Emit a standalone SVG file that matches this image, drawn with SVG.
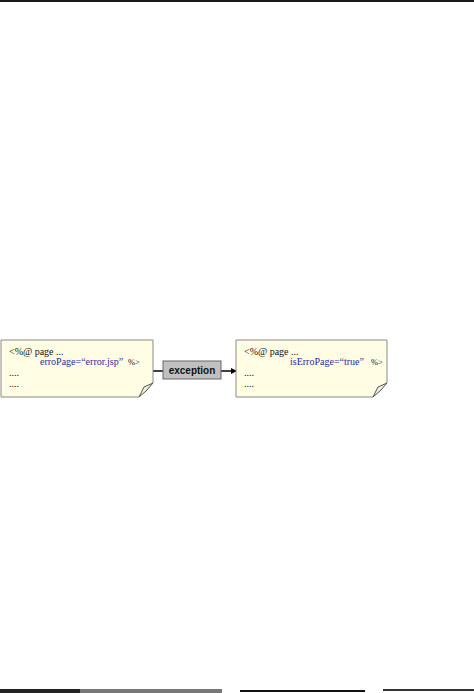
<svg xmlns="http://www.w3.org/2000/svg" width="474" height="693" viewBox="0 0 474 693">
<defs>
<style>
.note{fill:#fffde3;stroke:#8a8a8a;stroke-width:1}
.fold{fill:#f4f1d8;stroke:#555;stroke-width:1}
.t{font-family:"Liberation Serif",serif;font-size:10px;fill:#111}
.s{font-family:"Liberation Serif",serif;font-size:8.5px;fill:#111}
.b{font-family:"Liberation Serif",serif;font-size:10px;fill:#2a2aa0}
.ex{font-family:"Liberation Sans",Arial,sans-serif;font-size:10px;font-weight:bold;fill:#111}
</style>
<marker id="arr" markerWidth="6" markerHeight="6" refX="5" refY="3" orient="auto" markerUnits="userSpaceOnUse"><path d="M0,0 L6,3 L0,6 z" fill="#000"/></marker>
</defs>
<rect x="0" y="0" width="474" height="2" fill="#1a1a1a"/>
<rect x="0" y="689" width="80" height="4" fill="#222"/>
<rect x="80" y="689" width="142" height="4" fill="#777"/>
<rect x="240" y="690" width="125" height="2" fill="#111"/>
<rect x="383" y="689" width="91" height="2" fill="#333"/>
<g id="connectors">
<line x1="153" y1="371" x2="163" y2="371" stroke="#000" stroke-width="1.5"/>
<line x1="221" y1="371" x2="236" y2="371" stroke="#000" stroke-width="1.5" marker-end="url(#arr)"/>
</g>
<g id="note1">
<path class="note" d="M1,340 H153 V383 L139,397 H1 Z"/>
<path class="fold" d="M139,397 L144,387 L153,383 L146,391 Z"/>
<text class="t" x="9" y="355">&lt;%@ page ...</text>
<text class="b" x="40" y="365">erroPage=“error.jsp”</text>
<text class="s" x="128" y="365">%&gt;</text>
<text class="t" x="9" y="376">....</text>
<text class="t" x="9" y="387">....</text>
</g>
<g id="exception">
<rect x="163" y="361" width="58" height="18" fill="#c0c0c0" stroke="#666" stroke-width="1"/>
<text class="ex" x="192" y="374" text-anchor="middle">exception</text>
</g>
<g id="note2">
<path class="note" d="M236,340 H387 V383 L373,397 H236 Z"/>
<path class="fold" d="M373,397 L378,387 L387,383 L380,391 Z"/>
<text class="t" x="244" y="355">&lt;%@ page ...</text>
<text class="b" x="290" y="365">isErroPage=“true”</text>
<text class="s" x="371" y="365">%&gt;</text>
<text class="t" x="244" y="376">....</text>
<text class="t" x="244" y="387">....</text>
</g>
</svg>
